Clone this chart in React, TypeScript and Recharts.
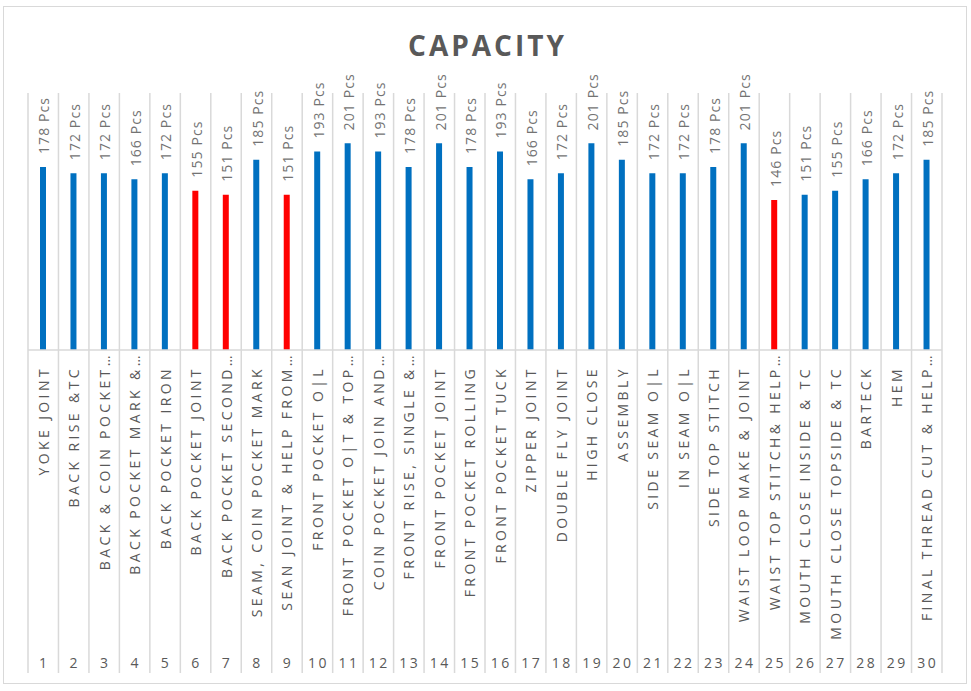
import React from 'react';
import { BarChart, Bar, XAxis, YAxis, Cell, LabelList, CartesianGrid } from 'recharts';

const categories = [
  'YOKE JOINT',
  'BACK RISE &TC',
  'BACK & COIN POCKET…',
  'BACK POCKET MARK &…',
  'BACK POCKET IRON',
  'BACK POCKET JOINT',
  'BACK POCKET SECOND…',
  'SEAM, COIN POCKET MARK',
  'SEAN JOINT & HELP FROM…',
  'FRONT POCKET O|L',
  'FRONT POCKET O|T & TOP…',
  'COIN POCKET JOIN AND…',
  'FRONT RISE, SINGLE &…',
  'FRONT POCKET JOINT',
  'FRONT POCKET ROLLING',
  'FRONT POCKET TUCK',
  'ZIPPER JOINT',
  'DOUBLE FLY JOINT',
  'HIGH CLOSE',
  'ASSEMBLY',
  'SIDE SEAM O|L',
  'IN SEAM O|L',
  'SIDE TOP STITCH',
  'WAIST LOOP MAKE &  JOINT',
  'WAIST TOP STITCH& HELP…',
  'MOUTH CLOSE INSIDE & TC',
  'MOUTH CLOSE TOPSIDE & TC',
  'BARTECK',
  'HEM',
  'FINAL THREAD CUT & HELP…',
];

const stepNumbers = [
  '1', '2', '3', '4', '5', '6', '7', '8', '9', '10',
  '11', '12', '13', '14', '15', '16', '17', '18', '19', '20',
  '21', '22', '23', '24', '25', '26', '27', '28', '29', '30',
];

const capacity = [
  178, 172, 172, 166, 172, 155, 151, 185, 151, 193,
  201, 193, 178, 201, 178, 193, 166, 172, 201, 185,
  172, 172, 178, 201, 146, 151, 155, 166, 172, 185,
];

const flaggedSteps = ['6', '7', '9', '25'];

const yDomain = [0, 250];

const data = categories.map((name, i) => ({
  name,
  step: stepNumbers[i],
  value: capacity[i],
  flagged: flaggedSteps.includes(stepNumbers[i]),
}));

const W = 971;
const H = 691;
const MARGIN = { top: 93, right: 29, bottom: 18, left: 28 };
const AXIS_H = 323;
const PLOT_W = W - MARGIN.left - MARGIN.right;
const BAND = PLOT_W / data.length;
const BOTTOM_Y = 673;

const FONT = '"Open Sans", "Noto Sans", sans-serif';
const GRID = '#d9d9d9';
const TEXT = '#595959';

const CategoryTick = (props: any) => {
  const { x, y, payload, index } = props;
  const label = String(payload.value);
  const truncated = label.endsWith('…');
  const labelY = y + (truncated ? 2 : 16);
  const d = data[index];
  return (
    <g>
      <text
        x={x}
        y={labelY}
        transform={`rotate(-90, ${x}, ${labelY})`}
        textAnchor="end"
        dominantBaseline="central"
        fontFamily={FONT}
        fontSize={14}
        fill={TEXT}
        style={{ letterSpacing: '3.4px' }}
      >
        {label}
      </text>
      <text
        x={x + 1}
        y={y + 312}
        textAnchor="middle"
        dominantBaseline="central"
        fontFamily={FONT}
        fontSize={14}
        fill={TEXT}
        style={{ letterSpacing: '2.5px' }}
      >
        {d ? d.step : ''}
      </text>
      <line x1={x - BAND / 2} x2={x - BAND / 2} y1={y} y2={BOTTOM_Y} stroke={GRID} strokeWidth={1.5} />
      {index === data.length - 1 && (
        <line x1={x + BAND / 2} x2={x + BAND / 2} y1={y} y2={BOTTOM_Y} stroke={GRID} strokeWidth={1.5} />
      )}
    </g>
  );
};

const ValueLabel = (props: any) => {
  const { x, y, width, value } = props;
  const cx = x + width / 2 + 1;
  const ty = y - 13;
  return (
    <text
      x={cx}
      y={ty}
      transform={`rotate(-90, ${cx}, ${ty})`}
      textAnchor="start"
      dominantBaseline="central"
      fontFamily={FONT}
      fontSize={14}
      fill="#737373"
      style={{ letterSpacing: '1.1px' }}
    >
      {`${value} Pcs`}
    </text>
  );
};

export default function App() {
  return (
    <div style={{ position: 'absolute', left: 0, top: 0, width: W, height: H, background: '#fff' }}>
      <div
        style={{
          position: 'absolute',
          left: 3,
          top: 6,
          width: 962,
          height: 676,
          border: `1.5px solid ${GRID}`,
        }}
      />
      <div
        style={{
          position: 'absolute',
          left: 2,
          top: 25,
          width: W,
          textAlign: 'center',
          fontFamily: FONT,
          fontWeight: 700,
          fontSize: 28,
          letterSpacing: '3px',
          color: TEXT,
          lineHeight: '40px',
        }}
      >
        CAPACITY
      </div>
      <div style={{ position: 'absolute', left: 0, top: 0 }}>
        <BarChart width={W} height={H} data={data} margin={MARGIN} barCategoryGap={0}>
          <CartesianGrid
            horizontal={false}
            vertical={true}
            stroke={GRID}
            strokeWidth={1.5}
            verticalCoordinatesGenerator={({ offset }: any) =>
              data.map((_, i) => offset.left + (i * offset.width) / data.length).concat([offset.left + offset.width])
            }
          />
          <XAxis
            dataKey="name"
            interval={0}
            height={AXIS_H}
            tickLine={false}
            tickSize={0}
            tickMargin={0}
            axisLine={{ stroke: GRID, strokeWidth: 1.5 }}
            tick={<CategoryTick />}
          />
          <YAxis hide domain={yDomain} />
          <Bar dataKey="value" barSize={6} isAnimationActive={false}>
            {data.map((d, i) => (
              <Cell key={i} fill={d.flagged ? '#ff0000' : '#0070c0'} />
            ))}
            <LabelList dataKey="value" content={<ValueLabel />} />
          </Bar>
        </BarChart>
      </div>
    </div>
  );
}
